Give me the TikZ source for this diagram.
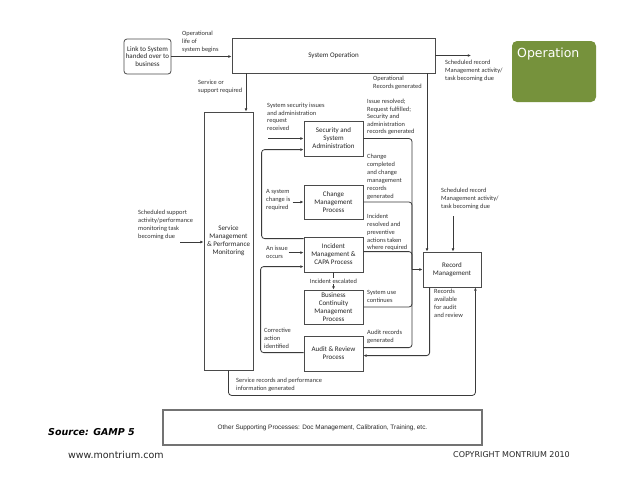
\documentclass[tikz,border=0pt]{standalone}
\usepackage{fontspec}
\setmainfont{Carlito}
\newfontfamily\verdf{DejaVu Sans}
\newfontfamily\arialf{Liberation Sans}
\usetikzlibrary{arrows.meta,calc}
\definecolor{ln}{HTML}{3A3A3A}
\definecolor{bx}{HTML}{4A4A4A}
\definecolor{opgreen}{HTML}{76923C}
\begin{document}
\begin{tikzpicture}[x=1pt,y=-1pt,
  box/.style={draw=bx, line width=0.8pt, fill=white, align=center, inner sep=0pt,
    font=\fontsize{7}{8}\selectfont, text=black!85},
  lbl/.style={anchor=north west, align=left, inner sep=0pt,
    font=\fontsize{6.4}{7.8}\selectfont, text=black!80},
  con/.style={draw=ln, line width=0.8pt, rounded corners=3pt},
  arr/.style={con, -{Latex[length=3.2pt,width=2.8pt]}},
]
\useasboundingbox[fill=white] (0,0) rectangle (638,493);

% boxes
\node[box, minimum width=47, minimum height=35, rounded corners=3pt,
  font=\fontsize{7}{7.6}\selectfont] (link) at (147.5,56.5) {Link to System\\handed over to\\business};
\node[box, minimum width=203, minimum height=35] (sysop) at (333.5,55.5) {System Operation};
\node[fill=opgreen, rounded corners=5pt, minimum width=84, minimum height=61, inner sep=0pt] (opbox) at (554,71.5) {};
\node[anchor=base west, inner sep=0pt, text=white, font=\verdf\fontsize{12.5}{14}\selectfont] (optext) at (517,57) {Operation};
\node[box, minimum width=49, minimum height=258] (svc) at (228.5,241) {Service\\Management\\\& Performance\\Monitoring};
\node[box, minimum width=59, minimum height=35] (sec) at (333.5,138.5) {Security and\\System\\Administration};
\node[box, minimum width=59, minimum height=34] (chg) at (333.5,202) {Change\\Management\\Process};
\node[box, minimum width=59, minimum height=35] (inc) at (333.5,254.5) {Incident\\Management \&\\CAPA Process};
\node[box, minimum width=59, minimum height=34] (bcm) at (333.5,307) {Business\\Continuity\\Management\\Process};
\node[box, minimum width=59, minimum height=35] (aud) at (333.5,353.5) {Audit \& Review\\Process};
\node[box, minimum width=58, minimum height=35] (rm) at (452,269.5) {Record\\Management};
\node[draw=black!55, line width=1.1pt, minimum width=319, minimum height=35, inner sep=0pt,
  font=\arialf\fontsize{6.4}{7.5}\selectfont, text=black!85] (other) at (322.5,427.5)
  {Other Supporting Processes: Doc Management, Calibration, Training, etc.};

% footer texts
\node[anchor=west, inner sep=0pt, font=\verdf\bfseries\itshape\fontsize{9.5}{11}\selectfont] (src) at (48,432) {Source: GAMP 5};
\node[anchor=west, inner sep=0pt, font=\verdf\fontsize{9.5}{11}\selectfont, text=black!85] (www) at (68,455) {www.montrium.com};
\node[anchor=west, inner sep=0pt, font=\verdf\fontsize{8}{10}\selectfont, text=black!85] (copy) at (453,455) {COPYRIGHT MONTRIUM 2010};

% helper coordinates
\coordinate (opend) at (471,56);
\coordinate (c246) at (246,0);
\coordinate (c427) at (427,0);
\coordinate (c412) at (412,0);
\coordinate (s1) at (180,242);
\coordinate (s2) at (268,138.5);
\coordinate (t453) at (453,216);

% connectors
\draw[arr] (link.east) -- (link.east -| sysop.west);
\draw[arr] (sysop.east) -- (sysop.east -| opend);
\draw[arr] (sysop.south -| c246) -- (svc.north -| c246);
\draw[arr] (s1) -- (s1 -| svc.west);
\draw[arr] (sysop.south -| c427) -- (rm.north -| c427);
\draw[arr] (s2) -- (sec.west);
\draw[arr] ($(chg.west)+(-11,0)$) -- (chg.west);
\draw[arr] ($(inc.north west)+(-15,16)$) -- ++(15,0);
\draw[arr] ($(inc.north west)+(0,2)$) -- ++(-42,0) |- ($(sec.north west)+(0,29)$);
\draw[arr] ($(aud.north west)+(0,17)$) -- ++(-43,0) |- ($(inc.north west)+(0,30)$);
\draw[arr] (inc.south) -- (bcm.north)
  node[midway, fill=white, inner sep=0.6pt, font=\fontsize{6.4}{7.8}\selectfont, text=black!80] {Incident escalated};

\draw[con] (sec.east) -| (rm.west -| c412);
\draw[con] (chg.east) -| (rm.west -| c412);
\draw[con] ($(inc.north east)+(0,15)$) -| (rm.west -| c412);
\draw[con] (bcm.east) -| (rm.west -| c412);
\draw[con] ($(aud.north east)+(0,12)$) -| (rm.west -| c412);
\draw[arr] (rm.west -| c412) -- (rm.west);

\draw[arr] (t453) -- (t453 |- rm.north);
\draw[arr] ($(rm.south west)+(7,0)$) |- ($(aud.north east)+(0,20)$);
\draw[arr] (svc.south) -- ++(0,25) -| ($(rm.south east)+(-6,0)$);

% labels
\node[lbl] (l1) at (182,31) {Operational\\life of\\system begins};
\node[lbl] (l2) at (198,80) {Service or\\support required};
\node[lbl] (l3) at (373,76) {Operational\\Records generated};
\node[lbl] (l4) at (445,60) {Scheduled record\\Management activity/\\task becoming due};
\node[lbl, font=\fontsize{6.4}{7.5}\selectfont] (l5) at (367,99) {Issue resolved;\\Request fulfilled;\\Security and\\administration\\records generated};
\node[lbl, font=\fontsize{6.4}{7.6}\selectfont] (l6) at (267,103) {System security issues\\and administration\\request\\received};
\node[lbl, font=\fontsize{6.4}{8}\selectfont] (l7) at (367,154) {Change\\completed\\and change\\management\\records\\generated};
\node[lbl] (l8) at (367,214) {Incident\\resolved and\\preventive\\actions taken\\where required};
\node[lbl, font=\fontsize{6.4}{8}\selectfont] (l9) at (266,189) {A system\\change is\\required};
\node[lbl, font=\fontsize{6.4}{8}\selectfont] (l10) at (266,246) {An issue\\occurs};
\node[lbl, font=\fontsize{6.4}{8}\selectfont] (l11) at (138,210) {Scheduled support\\activity/performance\\monitoring task\\becoming due};
\node[lbl, font=\fontsize{6.4}{8.5}\selectfont] (l12) at (367,290) {System use\\continues};
\node[lbl, font=\fontsize{6.4}{8}\selectfont] (l13) at (367,330) {Audit records\\generated};
\node[lbl, font=\fontsize{6.4}{8}\selectfont] (l14) at (264,328) {Corrective\\action\\identified};
\node[lbl, font=\fontsize{6.4}{8}\selectfont] (l15) at (434,289) {Records\\available\\for audit\\and review};
\node[lbl] (l16) at (441,188) {Scheduled record\\Management activity/\\task becoming due};
\node[lbl, font=\fontsize{6.4}{8}\selectfont] (l17) at (236,378) {Service records and performance\\information generated};
\end{tikzpicture}
\end{document}
